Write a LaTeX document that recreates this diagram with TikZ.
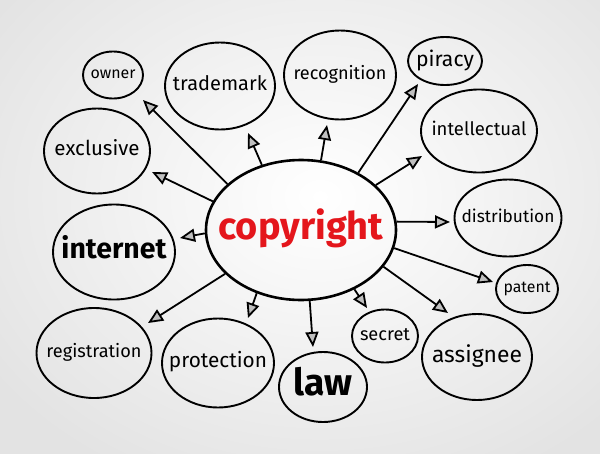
\documentclass[tikz,border=0pt]{standalone}
\usepackage{fontspec}
\setmainfont{Fira Sans}
\usetikzlibrary{shapes.geometric,arrows.meta}
\definecolor{cred}{RGB}{228,22,28}
\newcommand{\fitw}[2]{\resizebox{#1}{!}{\strut #2}}
\tikzset{
  bub/.style={ellipse, draw=black, line width=1.9pt, inner sep=0pt},
  arr/.style={line width=1.8pt, -{Triangle[length=15pt,width=13pt,fill=gray!50]}},
}
\begin{document}
\begin{tikzpicture}[x=1pt,y=-1pt]
\useasboundingbox (0,0) rectangle (600,453);
\begin{scope}
\clip (0,0) rectangle (600,453);
\shade[inner color=white, outer color=gray!22] (-80,-120) rectangle (720,513);
\end{scope}
% central
\node[bub, line width=2.6pt, minimum width=190pt, minimum height=140pt,
  label={center:\fitw{165pt}{\color{cred}\bfseries copyright}}] (cr) at (301,230) {};
% satellites
\node[bub, minimum width=60pt, minimum height=47pt, label={center:\fitw{45pt}{owner}}] (owner) at (113,75) {};
\node[bub, minimum width=110pt, minimum height=87pt, label={center:\fitw{94pt}{trademark}}] (trademark) at (220,86) {};
\node[bub, minimum width=106pt, minimum height=85pt, label={center:\fitw{85pt}{exclusive}}] (exclusive) at (97,151) {};
\node[bub, minimum width=112pt, minimum height=89pt, label={center:\fitw{93pt}{recognition}}] (recognition) at (340,75) {};
\node[bub, minimum width=74pt, minimum height=48pt, label={center:\fitw{58pt}{piracy}}] (piracy) at (445,61) {};
\node[bub, minimum width=116pt, minimum height=83pt, label={center:\fitw{95pt}{intellectual}}] (intellectual) at (479,131) {};
\node[bub, minimum width=107pt, minimum height=77pt, label={center:\fitw{93pt}{distribution}}] (distribution) at (508,218) {};
\node[bub, minimum width=122pt, minimum height=95pt, label={center:\fitw{105pt}{\bfseries internet}}] (internet) at (114,252) {};
\node[bub, minimum width=115pt, minimum height=90pt, label={center:\fitw{95pt}{registration}}] (registration) at (94,353) {};
\node[bub, minimum width=112pt, minimum height=89pt, label={center:\fitw{98pt}{protection}}] (protection) at (218,363) {};
\node[bub, minimum width=88pt, minimum height=70pt, label={center:\fitw{59pt}{\bfseries law}}] (law) at (323,387) {};
\node[bub, minimum width=66pt, minimum height=53pt, label={center:\fitw{50pt}{secret}}] (secret) at (385,336) {};
\node[bub, minimum width=110pt, minimum height=86pt, label={center:\fitw{90pt}{assignee}}] (assignee) at (477,357) {};
\node[bub, minimum width=62pt, minimum height=48pt, label={center:\fitw{47pt}{patent}}] (patent) at (527,289) {};
% arrow tips
\coordinate (t-owner) at (143,100);
\coordinate (t-trademark) at (248,133);
\coordinate (t-exclusive) at (152,172);
\coordinate (t-recognition) at (327,125);
\coordinate (t-piracy) at (418,84);
\coordinate (t-intellectual) at (422,156);
\coordinate (t-distribution) at (450,222);
\coordinate (t-internet) at (180,238);
\coordinate (t-registration) at (148,323);
\coordinate (t-protection) at (248,318);
\coordinate (t-law) at (313,347);
\coordinate (t-secret) at (367,308);
\coordinate (t-assignee) at (448,313);
\coordinate (t-patent) at (493,282);
% connectors
\draw[arr] (cr.148) -- (t-owner);
\draw[arr] (cr.121) -- (t-trademark);
\draw[arr] (cr.162) -- (t-exclusive);
\draw[arr] (cr.74) -- (t-recognition);
\draw[arr] (cr.45) -- (t-piracy);
\draw[arr] (cr.31) -- (t-intellectual);
\draw[arr] (cr.5) -- (t-distribution);
\draw[arr] (cr.182) -- (t-internet);
\draw[arr] (cr.210) -- (t-registration);
\draw[arr] (cr.235) -- (t-protection);
\draw[arr] (cr.277) -- (t-law);
\draw[arr] (cr.312) -- (t-secret);
\draw[arr] (cr.336) -- (t-assignee);
\draw[arr] (cr.349) -- (t-patent);
\end{tikzpicture}
\end{document}
